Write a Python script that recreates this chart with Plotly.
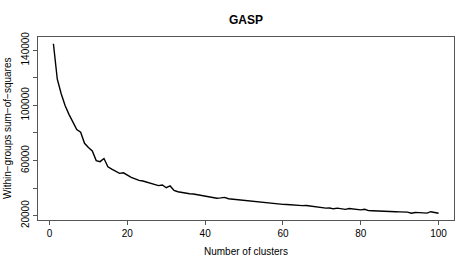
import plotly.graph_objects as go

clusters = list(range(1, 101))
wss = [
    144700, 119000, 108500, 100000, 93500, 87500, 82500, 80500, 72500, 69500,
    67000, 60000, 59200, 61500, 55500, 53800, 52400, 50700, 51100, 49300,
    47800, 46700, 45600, 45200, 44300, 43500, 43000, 41800, 42300, 40300,
    41600, 38400, 37400, 36800, 36300, 35900, 35700, 35200, 34400, 33900,
    33500, 33100, 32700, 32900, 33300, 32300, 32000, 31700, 31000, 30700,
    30500, 30200, 30000, 29600, 29700, 29200, 28800, 28500, 28300, 28200,
    28100, 27800, 27600, 27500, 27300, 27400, 27000, 26600, 26300, 26000,
    25500, 25600, 25000, 25500, 24800, 24600, 25200, 24700, 24300, 24200,
    24700, 23700, 23600, 23400, 23500, 23200, 23300, 23000, 22900, 22800,
    22700, 22600, 21800, 22300, 22200, 22300, 21900, 22900, 22200, 21800,
]
x_ticks = [0, 20, 40, 60, 80, 100]
y_ticks = [20000, 40000, 60000, 80000, 100000, 120000, 140000]
y_labels = ["20000", "", "60000", "", "100000", "", "140000"]

title = "GASP"
x_title = "Number of clusters"
y_title = "Within\u2212groups sum\u2212of\u2212squares"

# R-style 4% axis extension
xmin, xmax = min(clusters), max(clusters)
ymin, ymax = min(wss), max(wss)
xr = [xmin - 0.04 * (xmax - xmin), xmax + 0.04 * (xmax - xmin)]
yr = [ymin - 0.04 * (ymax - ymin), ymax + 0.04 * (ymax - ymin)]

font = "Liberation Sans, Arial, Helvetica, sans-serif"
axcol = "#555555"

fig = go.Figure(go.Scatter(x=clusters, y=wss, mode="lines",
                           line=dict(color="black", width=1.4)))

fig.update_layout(
    width=474, height=268,
    margin=dict(l=37.5, r=19.6, t=37, b=48),
    paper_bgcolor="white", plot_bgcolor="white",
    showlegend=False,
    font=dict(family=font, size=10, color="black"),
    xaxis=dict(range=xr, tickvals=x_ticks, ticks="outside", ticklen=4,
               tickcolor=axcol, showline=True, linecolor=axcol, linewidth=1,
               mirror=True, showgrid=False, zeroline=False,
               tickfont=dict(size=10)),
    yaxis=dict(range=yr, tickvals=y_ticks, ticktext=y_labels, ticks="outside",
               ticklen=4, tickcolor=axcol, showline=True, linecolor=axcol,
               linewidth=1, mirror=True, showgrid=False, zeroline=False,
               tickangle=-90, tickfont=dict(size=10)),
    annotations=[
        dict(text="<b>" + title + "</b>", xref="paper", yref="paper", x=0.5, y=1,
             yshift=17, xanchor="center", yanchor="middle", showarrow=False,
             font=dict(size=12)),
        dict(text=x_title, xref="paper", yref="paper", x=0.5, y=0,
             yshift=-31, xanchor="center", yanchor="middle", showarrow=False,
             font=dict(size=10)),
        dict(text=y_title, xref="paper", yref="paper", x=0, y=0.5,
             xshift=-30.5, xanchor="center", yanchor="middle", showarrow=False,
             textangle=-90, font=dict(size=10)),
    ],
)

fig.write_html("out.html")
